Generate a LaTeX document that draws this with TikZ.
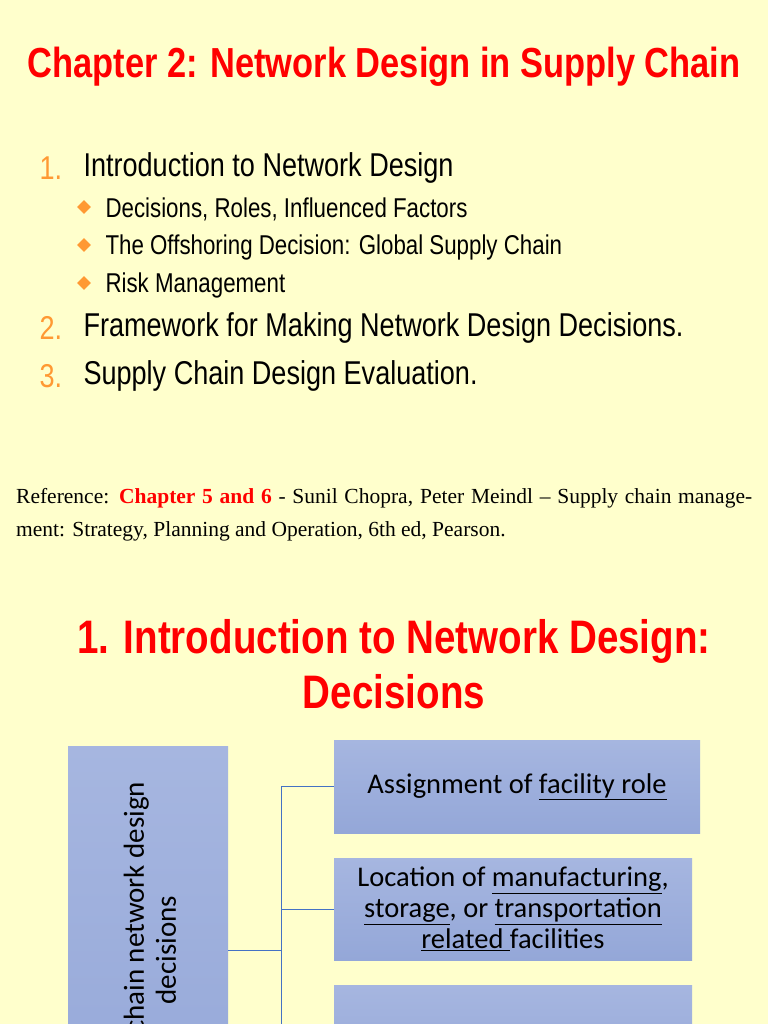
\documentclass[tikz,border=0pt]{standalone}
\usepackage{fontspec}
\setmainfont{Liberation Sans}
\newfontfamily\narrow[FakeStretch=0.82]{Liberation Sans}
\newfontfamily\serifr{Liberation Serif}
\newfontfamily\carl{Carlito}
\usetikzlibrary{shapes.geometric}
\definecolor{bg}{HTML}{FFFFCC}
\definecolor{ttl}{HTML}{FF0000}
\definecolor{org}{HTML}{FF9933}
\definecolor{bxa}{HTML}{A6B6E0}
\definecolor{bxb}{HTML}{94A7D8}
\definecolor{ln}{HTML}{4472C4}
\tikzset{
 bluebox/.style={draw=none,top color=bxa,bottom color=bxb},
 conn/.style={draw=ln,line width=0.8pt},
 itm/.style={anchor=west,font=\narrow\fontsize{33}{36}\selectfont},
 sub/.style={anchor=west,font=\narrow\fontsize{27.2}{29}\selectfont},
 num/.style={anchor=west,text=org,font=\narrow\fontsize{33}{36}\selectfont},
 dia/.style={diamond,fill=org,inner sep=0pt,minimum width=14pt,minimum height=14pt},
 boxtxt/.style={align=center,font=\carl\fontsize{28.5}{31}\selectfont}
}
\begin{document}
\begin{tikzpicture}[x=1pt,y=-1pt]
\fill[bg] (0,0) rectangle (768,1024);
\useasboundingbox (0,0) rectangle (768,1024);
\node[text=ttl,font=\narrow\bfseries\fontsize{42}{46}\selectfont] (title) at (384,67) {Chapter 2: Network Design in Supply Chain};
\node[num] (n1) at (36,168) {1.};
\node[itm] (i1) at (80,168) {Introduction to Network Design};
\node[dia] (d1) at (84,207) {};
\node[sub] (s1) at (102,209) {Decisions, Roles, Influenced Factors};
\node[dia] (d2) at (84,245) {};
\node[sub] (s2) at (102,247) {The Offshoring Decision: Global Supply Chain};
\node[dia] (d3) at (84,283) {};
\node[sub] (s3) at (102,285) {Risk Management};
\node[num] (n2) at (36,328) {2.};
\node[itm] (i2) at (80,328) {Framework for Making Network Design Decisions.};
\node[num] (n3) at (36,376) {3.};
\node[itm] (i3) at (80,376) {Supply Chain Design Evaluation.};
\node[anchor=north west,inner sep=0pt,text width=736pt,align=justify,font=\serifr\fontsize{21.5}{33}\selectfont] (ref) at (16,488)
 {Reference: \textcolor{ttl}{\textbf{Chapter 5 and 6}} - Sunil Chopra, Peter Meindl – Supply chain management: Strategy, Planning and Operation, 6th ed, Pearson.};
\node[text=ttl,align=center,font=\narrow\bfseries\fontsize{47}{55}\selectfont] (h2) at (394,664) {1. Introduction to Network Design:\\Decisions};
\begin{scope}
\clip (0,0) rectangle (768,1024);
\node[bluebox,minimum width=160pt,minimum height=408pt] (L) at (148,950) {};
\node[rotate=90,boxtxt,font=\carl\fontsize{29}{32}\selectfont] (Lt) at (150,950) {Supply chain network design\\decisions};
\node[bluebox,minimum width=366pt,minimum height=93pt] (b1) at (517,786.5) {};
\node[boxtxt] at (b1) {Assignment of \underline{facility role}};
\node[bluebox,minimum width=358pt,minimum height=102pt] (b2) at (513,909) {};
\node[boxtxt] at (b2) {Location of \underline{manufacturing},\\\underline{storage}, or \underline{transportation}\\\underline{related }facilities};
\node[bluebox,minimum width=358pt,minimum height=100pt] (b3) at (513,1035) {};
\coordinate (j) at (281,950);
\draw[conn] (L.east |- j) -- (j);
\draw[conn] (281,786) |- (b1.west);
\draw[conn] (281,786) -- (281,1035) -- (b3.west);
\draw[conn] (281,909) -- (b2.west);
\end{scope}
\end{tikzpicture}
\end{document}
